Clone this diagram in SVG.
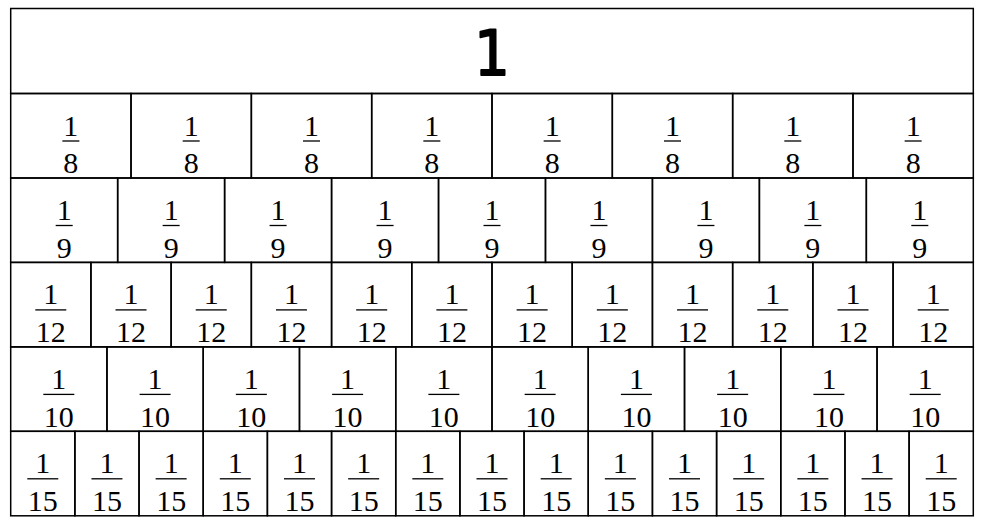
<svg xmlns="http://www.w3.org/2000/svg" width="987" height="530" viewBox="0 0 987 530">
<style>
.cell{fill:none;stroke:#000;stroke-width:1.5}
.n{font-family:"Liberation Serif","Times New Roman",serif;font-size:30px;text-anchor:middle;fill:#000}
.bar{stroke:#000;stroke-width:1.3}
.one{font-family:"DejaVu Sans Condensed","DejaVu Sans",sans-serif;font-size:62px;text-anchor:middle;fill:#000;stroke:#000;stroke-width:1.8;stroke-linejoin:round}
</style>
<rect x="0" y="0" width="987" height="530" fill="#fff"/>
<g id="whole">
<rect class="cell" x="10.7" y="8.5" width="962.6" height="85"/>
<text class="one" x="492" y="75">1</text>
</g>
<g id="row-eighths">
<g id="e1" transform="translate(70.86,93.5)"><rect class="cell" x="-60.16" y="0" width="120.33" height="84.5"/><text class="n" x="0" y="42">1</text><line class="bar" x1="-8.5" y1="47.5" x2="8.5" y2="47.5"/><text class="n" x="0" y="79.7">8</text></g>
<g id="e2" transform="translate(191.19,93.5)"><rect class="cell" x="-60.16" y="0" width="120.33" height="84.5"/><text class="n" x="0" y="42">1</text><line class="bar" x1="-8.5" y1="47.5" x2="8.5" y2="47.5"/><text class="n" x="0" y="79.7">8</text></g>
<g id="e3" transform="translate(311.51,93.5)"><rect class="cell" x="-60.16" y="0" width="120.33" height="84.5"/><text class="n" x="0" y="42">1</text><line class="bar" x1="-8.5" y1="47.5" x2="8.5" y2="47.5"/><text class="n" x="0" y="79.7">8</text></g>
<g id="e4" transform="translate(431.84,93.5)"><rect class="cell" x="-60.16" y="0" width="120.33" height="84.5"/><text class="n" x="0" y="42">1</text><line class="bar" x1="-8.5" y1="47.5" x2="8.5" y2="47.5"/><text class="n" x="0" y="79.7">8</text></g>
<g id="e5" transform="translate(552.16,93.5)"><rect class="cell" x="-60.16" y="0" width="120.33" height="84.5"/><text class="n" x="0" y="42">1</text><line class="bar" x1="-8.5" y1="47.5" x2="8.5" y2="47.5"/><text class="n" x="0" y="79.7">8</text></g>
<g id="e6" transform="translate(672.49,93.5)"><rect class="cell" x="-60.16" y="0" width="120.33" height="84.5"/><text class="n" x="0" y="42">1</text><line class="bar" x1="-8.5" y1="47.5" x2="8.5" y2="47.5"/><text class="n" x="0" y="79.7">8</text></g>
<g id="e7" transform="translate(792.81,93.5)"><rect class="cell" x="-60.16" y="0" width="120.33" height="84.5"/><text class="n" x="0" y="42">1</text><line class="bar" x1="-8.5" y1="47.5" x2="8.5" y2="47.5"/><text class="n" x="0" y="79.7">8</text></g>
<g id="e8" transform="translate(913.14,93.5)"><rect class="cell" x="-60.16" y="0" width="120.33" height="84.5"/><text class="n" x="0" y="42">1</text><line class="bar" x1="-8.5" y1="47.5" x2="8.5" y2="47.5"/><text class="n" x="0" y="79.7">8</text></g>
</g>
<g id="row-ninths">
<g id="n1" transform="translate(64.18,178)"><rect class="cell" x="-53.48" y="0" width="106.96" height="84.4"/><text class="n" x="0" y="42">1</text><line class="bar" x1="-8.5" y1="47.5" x2="8.5" y2="47.5"/><text class="n" x="0" y="79.7">9</text></g>
<g id="n2" transform="translate(171.13,178)"><rect class="cell" x="-53.48" y="0" width="106.96" height="84.4"/><text class="n" x="0" y="42">1</text><line class="bar" x1="-8.5" y1="47.5" x2="8.5" y2="47.5"/><text class="n" x="0" y="79.7">9</text></g>
<g id="n3" transform="translate(278.09,178)"><rect class="cell" x="-53.48" y="0" width="106.96" height="84.4"/><text class="n" x="0" y="42">1</text><line class="bar" x1="-8.5" y1="47.5" x2="8.5" y2="47.5"/><text class="n" x="0" y="79.7">9</text></g>
<g id="n4" transform="translate(385.05,178)"><rect class="cell" x="-53.48" y="0" width="106.96" height="84.4"/><text class="n" x="0" y="42">1</text><line class="bar" x1="-8.5" y1="47.5" x2="8.5" y2="47.5"/><text class="n" x="0" y="79.7">9</text></g>
<g id="n5" transform="translate(492,178)"><rect class="cell" x="-53.48" y="0" width="106.96" height="84.4"/><text class="n" x="0" y="42">1</text><line class="bar" x1="-8.5" y1="47.5" x2="8.5" y2="47.5"/><text class="n" x="0" y="79.7">9</text></g>
<g id="n6" transform="translate(598.96,178)"><rect class="cell" x="-53.48" y="0" width="106.96" height="84.4"/><text class="n" x="0" y="42">1</text><line class="bar" x1="-8.5" y1="47.5" x2="8.5" y2="47.5"/><text class="n" x="0" y="79.7">9</text></g>
<g id="n7" transform="translate(705.91,178)"><rect class="cell" x="-53.48" y="0" width="106.96" height="84.4"/><text class="n" x="0" y="42">1</text><line class="bar" x1="-8.5" y1="47.5" x2="8.5" y2="47.5"/><text class="n" x="0" y="79.7">9</text></g>
<g id="n8" transform="translate(812.87,178)"><rect class="cell" x="-53.48" y="0" width="106.96" height="84.4"/><text class="n" x="0" y="42">1</text><line class="bar" x1="-8.5" y1="47.5" x2="8.5" y2="47.5"/><text class="n" x="0" y="79.7">9</text></g>
<g id="n9" transform="translate(919.82,178)"><rect class="cell" x="-53.48" y="0" width="106.96" height="84.4"/><text class="n" x="0" y="42">1</text><line class="bar" x1="-8.5" y1="47.5" x2="8.5" y2="47.5"/><text class="n" x="0" y="79.7">9</text></g>
</g>
<g id="row-twelfths">
<g id="t1" transform="translate(50.81,262.4)"><rect class="cell" x="-40.11" y="0" width="80.22" height="84.5"/><text class="n" x="0" y="42">1</text><line class="bar" x1="-15.5" y1="47.5" x2="15.5" y2="47.5"/><text class="n" x="0" y="79.7">12</text></g>
<g id="t2" transform="translate(131.03,262.4)"><rect class="cell" x="-40.11" y="0" width="80.22" height="84.5"/><text class="n" x="0" y="42">1</text><line class="bar" x1="-15.5" y1="47.5" x2="15.5" y2="47.5"/><text class="n" x="0" y="79.7">12</text></g>
<g id="t3" transform="translate(211.24,262.4)"><rect class="cell" x="-40.11" y="0" width="80.22" height="84.5"/><text class="n" x="0" y="42">1</text><line class="bar" x1="-15.5" y1="47.5" x2="15.5" y2="47.5"/><text class="n" x="0" y="79.7">12</text></g>
<g id="t4" transform="translate(291.46,262.4)"><rect class="cell" x="-40.11" y="0" width="80.22" height="84.5"/><text class="n" x="0" y="42">1</text><line class="bar" x1="-15.5" y1="47.5" x2="15.5" y2="47.5"/><text class="n" x="0" y="79.7">12</text></g>
<g id="t5" transform="translate(371.68,262.4)"><rect class="cell" x="-40.11" y="0" width="80.22" height="84.5"/><text class="n" x="0" y="42">1</text><line class="bar" x1="-15.5" y1="47.5" x2="15.5" y2="47.5"/><text class="n" x="0" y="79.7">12</text></g>
<g id="t6" transform="translate(451.89,262.4)"><rect class="cell" x="-40.11" y="0" width="80.22" height="84.5"/><text class="n" x="0" y="42">1</text><line class="bar" x1="-15.5" y1="47.5" x2="15.5" y2="47.5"/><text class="n" x="0" y="79.7">12</text></g>
<g id="t7" transform="translate(532.11,262.4)"><rect class="cell" x="-40.11" y="0" width="80.22" height="84.5"/><text class="n" x="0" y="42">1</text><line class="bar" x1="-15.5" y1="47.5" x2="15.5" y2="47.5"/><text class="n" x="0" y="79.7">12</text></g>
<g id="t8" transform="translate(612.33,262.4)"><rect class="cell" x="-40.11" y="0" width="80.22" height="84.5"/><text class="n" x="0" y="42">1</text><line class="bar" x1="-15.5" y1="47.5" x2="15.5" y2="47.5"/><text class="n" x="0" y="79.7">12</text></g>
<g id="t9" transform="translate(692.54,262.4)"><rect class="cell" x="-40.11" y="0" width="80.22" height="84.5"/><text class="n" x="0" y="42">1</text><line class="bar" x1="-15.5" y1="47.5" x2="15.5" y2="47.5"/><text class="n" x="0" y="79.7">12</text></g>
<g id="t10" transform="translate(772.76,262.4)"><rect class="cell" x="-40.11" y="0" width="80.22" height="84.5"/><text class="n" x="0" y="42">1</text><line class="bar" x1="-15.5" y1="47.5" x2="15.5" y2="47.5"/><text class="n" x="0" y="79.7">12</text></g>
<g id="t11" transform="translate(852.98,262.4)"><rect class="cell" x="-40.11" y="0" width="80.22" height="84.5"/><text class="n" x="0" y="42">1</text><line class="bar" x1="-15.5" y1="47.5" x2="15.5" y2="47.5"/><text class="n" x="0" y="79.7">12</text></g>
<g id="t12" transform="translate(933.19,262.4)"><rect class="cell" x="-40.11" y="0" width="80.22" height="84.5"/><text class="n" x="0" y="42">1</text><line class="bar" x1="-15.5" y1="47.5" x2="15.5" y2="47.5"/><text class="n" x="0" y="79.7">12</text></g>
</g>
<g id="row-tenths">
<g id="d1" transform="translate(58.83,346.9)"><rect class="cell" x="-48.13" y="0" width="96.26" height="84.4"/><text class="n" x="0" y="42">1</text><line class="bar" x1="-15.5" y1="47.5" x2="15.5" y2="47.5"/><text class="n" x="0" y="79.7">10</text></g>
<g id="d2" transform="translate(155.09,346.9)"><rect class="cell" x="-48.13" y="0" width="96.26" height="84.4"/><text class="n" x="0" y="42">1</text><line class="bar" x1="-15.5" y1="47.5" x2="15.5" y2="47.5"/><text class="n" x="0" y="79.7">10</text></g>
<g id="d3" transform="translate(251.35,346.9)"><rect class="cell" x="-48.13" y="0" width="96.26" height="84.4"/><text class="n" x="0" y="42">1</text><line class="bar" x1="-15.5" y1="47.5" x2="15.5" y2="47.5"/><text class="n" x="0" y="79.7">10</text></g>
<g id="d4" transform="translate(347.61,346.9)"><rect class="cell" x="-48.13" y="0" width="96.26" height="84.4"/><text class="n" x="0" y="42">1</text><line class="bar" x1="-15.5" y1="47.5" x2="15.5" y2="47.5"/><text class="n" x="0" y="79.7">10</text></g>
<g id="d5" transform="translate(443.87,346.9)"><rect class="cell" x="-48.13" y="0" width="96.26" height="84.4"/><text class="n" x="0" y="42">1</text><line class="bar" x1="-15.5" y1="47.5" x2="15.5" y2="47.5"/><text class="n" x="0" y="79.7">10</text></g>
<g id="d6" transform="translate(540.13,346.9)"><rect class="cell" x="-48.13" y="0" width="96.26" height="84.4"/><text class="n" x="0" y="42">1</text><line class="bar" x1="-15.5" y1="47.5" x2="15.5" y2="47.5"/><text class="n" x="0" y="79.7">10</text></g>
<g id="d7" transform="translate(636.39,346.9)"><rect class="cell" x="-48.13" y="0" width="96.26" height="84.4"/><text class="n" x="0" y="42">1</text><line class="bar" x1="-15.5" y1="47.5" x2="15.5" y2="47.5"/><text class="n" x="0" y="79.7">10</text></g>
<g id="d8" transform="translate(732.65,346.9)"><rect class="cell" x="-48.13" y="0" width="96.26" height="84.4"/><text class="n" x="0" y="42">1</text><line class="bar" x1="-15.5" y1="47.5" x2="15.5" y2="47.5"/><text class="n" x="0" y="79.7">10</text></g>
<g id="d9" transform="translate(828.91,346.9)"><rect class="cell" x="-48.13" y="0" width="96.26" height="84.4"/><text class="n" x="0" y="42">1</text><line class="bar" x1="-15.5" y1="47.5" x2="15.5" y2="47.5"/><text class="n" x="0" y="79.7">10</text></g>
<g id="d10" transform="translate(925.17,346.9)"><rect class="cell" x="-48.13" y="0" width="96.26" height="84.4"/><text class="n" x="0" y="42">1</text><line class="bar" x1="-15.5" y1="47.5" x2="15.5" y2="47.5"/><text class="n" x="0" y="79.7">10</text></g>
</g>
<g id="row-fifteenths">
<g id="f1" transform="translate(42.79,431.3)"><rect class="cell" x="-32.09" y="0" width="64.17" height="84.5"/><text class="n" x="0" y="42">1</text><line class="bar" x1="-15.5" y1="47.5" x2="15.5" y2="47.5"/><text class="n" x="0" y="79.7">15</text></g>
<g id="f2" transform="translate(106.96,431.3)"><rect class="cell" x="-32.09" y="0" width="64.17" height="84.5"/><text class="n" x="0" y="42">1</text><line class="bar" x1="-15.5" y1="47.5" x2="15.5" y2="47.5"/><text class="n" x="0" y="79.7">15</text></g>
<g id="f3" transform="translate(171.13,431.3)"><rect class="cell" x="-32.09" y="0" width="64.17" height="84.5"/><text class="n" x="0" y="42">1</text><line class="bar" x1="-15.5" y1="47.5" x2="15.5" y2="47.5"/><text class="n" x="0" y="79.7">15</text></g>
<g id="f4" transform="translate(235.31,431.3)"><rect class="cell" x="-32.09" y="0" width="64.17" height="84.5"/><text class="n" x="0" y="42">1</text><line class="bar" x1="-15.5" y1="47.5" x2="15.5" y2="47.5"/><text class="n" x="0" y="79.7">15</text></g>
<g id="f5" transform="translate(299.48,431.3)"><rect class="cell" x="-32.09" y="0" width="64.17" height="84.5"/><text class="n" x="0" y="42">1</text><line class="bar" x1="-15.5" y1="47.5" x2="15.5" y2="47.5"/><text class="n" x="0" y="79.7">15</text></g>
<g id="f6" transform="translate(363.65,431.3)"><rect class="cell" x="-32.09" y="0" width="64.17" height="84.5"/><text class="n" x="0" y="42">1</text><line class="bar" x1="-15.5" y1="47.5" x2="15.5" y2="47.5"/><text class="n" x="0" y="79.7">15</text></g>
<g id="f7" transform="translate(427.83,431.3)"><rect class="cell" x="-32.09" y="0" width="64.17" height="84.5"/><text class="n" x="0" y="42">1</text><line class="bar" x1="-15.5" y1="47.5" x2="15.5" y2="47.5"/><text class="n" x="0" y="79.7">15</text></g>
<g id="f8" transform="translate(492,431.3)"><rect class="cell" x="-32.09" y="0" width="64.17" height="84.5"/><text class="n" x="0" y="42">1</text><line class="bar" x1="-15.5" y1="47.5" x2="15.5" y2="47.5"/><text class="n" x="0" y="79.7">15</text></g>
<g id="f9" transform="translate(556.17,431.3)"><rect class="cell" x="-32.09" y="0" width="64.17" height="84.5"/><text class="n" x="0" y="42">1</text><line class="bar" x1="-15.5" y1="47.5" x2="15.5" y2="47.5"/><text class="n" x="0" y="79.7">15</text></g>
<g id="f10" transform="translate(620.35,431.3)"><rect class="cell" x="-32.09" y="0" width="64.17" height="84.5"/><text class="n" x="0" y="42">1</text><line class="bar" x1="-15.5" y1="47.5" x2="15.5" y2="47.5"/><text class="n" x="0" y="79.7">15</text></g>
<g id="f11" transform="translate(684.52,431.3)"><rect class="cell" x="-32.09" y="0" width="64.17" height="84.5"/><text class="n" x="0" y="42">1</text><line class="bar" x1="-15.5" y1="47.5" x2="15.5" y2="47.5"/><text class="n" x="0" y="79.7">15</text></g>
<g id="f12" transform="translate(748.69,431.3)"><rect class="cell" x="-32.09" y="0" width="64.17" height="84.5"/><text class="n" x="0" y="42">1</text><line class="bar" x1="-15.5" y1="47.5" x2="15.5" y2="47.5"/><text class="n" x="0" y="79.7">15</text></g>
<g id="f13" transform="translate(812.87,431.3)"><rect class="cell" x="-32.09" y="0" width="64.17" height="84.5"/><text class="n" x="0" y="42">1</text><line class="bar" x1="-15.5" y1="47.5" x2="15.5" y2="47.5"/><text class="n" x="0" y="79.7">15</text></g>
<g id="f14" transform="translate(877.04,431.3)"><rect class="cell" x="-32.09" y="0" width="64.17" height="84.5"/><text class="n" x="0" y="42">1</text><line class="bar" x1="-15.5" y1="47.5" x2="15.5" y2="47.5"/><text class="n" x="0" y="79.7">15</text></g>
<g id="f15" transform="translate(941.21,431.3)"><rect class="cell" x="-32.09" y="0" width="64.17" height="84.5"/><text class="n" x="0" y="42">1</text><line class="bar" x1="-15.5" y1="47.5" x2="15.5" y2="47.5"/><text class="n" x="0" y="79.7">15</text></g>
</g>
<g id="connectors"></g>
</svg>
